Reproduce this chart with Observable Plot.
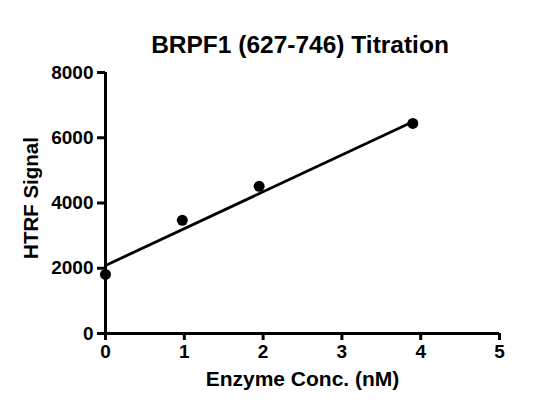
<!DOCTYPE html>
<html>
<head>
<meta charset="utf-8">
<script src="https://cdn.jsdelivr.net/npm/d3@7"></script>
<script src="https://cdn.jsdelivr.net/npm/@observablehq/plot@0.6"></script>
<style>
html,body{margin:0;padding:0;background:#fff;}
#chart svg{font-family:"Liberation Sans",Arial,sans-serif;}
</style>
</head>
<body>
<div id="chart"></div>
<script>
const titleText = "BRPF1 (627-746) Titration";
const xLabel = "Enzyme Conc. (nM)";
const yLabel = "HTRF Signal";
const conc = [0, 0.975, 1.95, 3.9];
const signal = [1810, 3470, 4510, 6440];
const fitConc = [0, 3.9];
const fitSignal = [2085, 6490];
const xTicks = [0, 1, 2, 3, 4, 5];
const yTicks = [0, 2000, 4000, 6000, 8000];

const pts = conc.map((c, i) => ({x: c, y: signal[i]}));
const fit = fitConc.map((c, i) => ({x: c, y: fitSignal[i]}));

const plot = Plot.plot({
  width: 560,
  height: 414,
  marginLeft: 105,
  marginRight: 61,
  marginTop: 72,
  marginBottom: 81,
  style: {fontFamily: "Liberation Sans, Arial, sans-serif", background: "#fff", color: "#000"},
  x: {domain: [0, 5]},
  y: {domain: [0, 8000]},
  marks: [
    Plot.axisY({ticks: yTicks, tickSize: 8, tickPadding: 4, strokeWidth: 3, fontSize: 19, fontWeight: "bold", label: null, tickFormat: d => String(d)}),
    Plot.axisX({ticks: xTicks, tickSize: 7, tickPadding: 4, strokeWidth: 3, fontSize: 19, fontWeight: "bold", label: null, tickFormat: d => String(d)}),
    Plot.ruleX([0], {y1: 0, y2: 8000, strokeWidth: 3, stroke: "#000"}),
    Plot.ruleY([0], {x1: 0, x2: 5, strokeWidth: 3, stroke: "#000"}),
    Plot.line(fit, {x: "x", y: "y", stroke: "#000", strokeWidth: 2.8}),
    Plot.dot(pts, {x: "x", y: "y", r: 5.5, fill: "#000", stroke: "none"}),
    Plot.text([titleText], {frameAnchor: "top", dy: -37, dx: -2.5, fontSize: 24.5, fontWeight: "bold", fill: "#000", textAnchor: "middle"}),
    Plot.text([xLabel], {frameAnchor: "bottom", dy: 52, fontSize: 21, fontWeight: "bold", fill: "#000", textAnchor: "middle"}),
    Plot.text([yLabel], {frameAnchor: "left", dx: -74, dy: -5, rotate: -90, fontSize: 20.5, fontWeight: "bold", fill: "#000", textAnchor: "middle"})
  ]
});
document.getElementById("chart").appendChild(plot);
</script>
</body>
</html>
